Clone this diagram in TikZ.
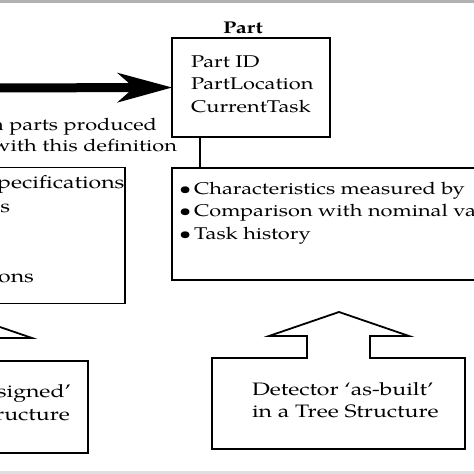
\documentclass[tikz,border=0pt]{standalone}
\usepackage{fontspec}
\setmainfont{texgyrepagella}[Extension=.otf, UprightFont=*-regular, BoldFont=*-bold,
  ItalicFont=*-italic, BoldItalicFont=*-bolditalic, FakeStretch=1.28]
\usetikzlibrary{arrows.meta}

\tikzset{
  frame/.style={draw, line width=1.6pt, inner sep=0pt, outer sep=0pt},
  txt/.style={inner sep=0pt, outer sep=0pt, align=left},
  bigtxt/.style={txt, font=\fontsize{18}{22.5}\selectfont},
  arrowbox/.style={draw, line width=1.8pt, line join=miter}
}

\begin{document}
\begin{tikzpicture}[x=1pt, y=-1pt,
    every node/.style={font=\fontsize{17}{22.5}\selectfont}]
    \useasboundingbox (0,0) rectangle (474,474);
    \clip (0,0) rectangle (474,474);
    % Define the boxes
    \node[frame, line width=2.5pt, minimum width=158pt, minimum height=99pt]
    (part) at (251,87.5) {}; \node[frame, minimum width=348pt, minimum
    height=112.5pt] (meas) at (346,224) {}; \node[frame, minimum width=185pt,
    minimum height=136pt] (spec) at (32.5,235.5) {};
    \node[txt, anchor=base, font=\fontsize{17}{20}\selectfont\bfseries] (partname)
    at (243,33) {Part};
    \node[txt, anchor=base west] (partattr) at (191,112) {Part ID\\PartLocation\\CurrentTask};
    \node[txt, anchor=base west] (measlist) at (179,239)
    {\textbullet\,Characteristics measured by\\\textbullet\,Comparison with nominal values\\\textbullet\,Task history};
    \node[bigtxt, anchor=base east] (spec1) at (124.5,188) {Specifications};
    \node[bigtxt, anchor=base east] (spec2) at (10,212) {Tolerances};
    \node[bigtxt, anchor=base east] (spec5) at (34,282) {Instructions};
    % Draw arrows
    \coordinate (src) at (-20,88); \coordinate (tap) at (200,0);
    \draw[line width=9pt, -{Stealth[length=55pt, width=30pt, inset=17pt,
    line width=0pt]}] (src) -- (part.west);
    \node[txt, anchor=base east] (applies1) at (157,130) {a parts produced};
    \node[txt, anchor=base east] (applies2) at (177,151.5) {with this definition};
    \draw[line width=2pt] (part.south -| tap) -- (meas.north -| tap);
    % Hollow arrows on the tree boxes
    \draw[arrowbox] (212,358) -- (307,358) -- (307,336) -- (269,336) --
    (339,312) -- (409,336) -- (370,336) -- (370,358) -- (465,358) --
    (465,449) -- (212,449) -- cycle;
    \draw[arrowbox] (-200,361) -- (-70,361) -- (-70,338) -- (-108,338) --
    (-38,314) -- (32,338) -- (-7,338) -- (-7,361) -- (88,361) -- (88,453) --
    (-200,453) -- cycle;
    \node[bigtxt, anchor=base west, font=\fontsize{18}{22}\selectfont] (built)
    at (252,417) {Detector `as-built'\\in a Tree Structure};
    \node[bigtxt, anchor=base east] (design1) at (71,397) {Detector `as-designed'};
    \node[bigtxt, anchor=base east] (design2) at (70,420) {in a Tree Structure};
    % Grey page edges
    \fill[gray!60] (0,0) rectangle (474,2.5);
    \fill[gray!25] (0,471) rectangle (474,474);
\end{tikzpicture}
\end{document}
